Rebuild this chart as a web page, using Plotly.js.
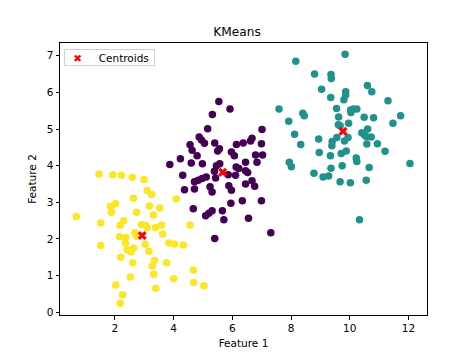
<!DOCTYPE html>
<html>
<head>
<meta charset="utf-8">
<script src="https://cdn.plot.ly/plotly-3.0.1.min.js"></script>
<style>html,body{margin:0;padding:0;background:#fff;}</style>
</head>
<body>
<div id="chart" style="width:474px;height:355px;"></div>
<script>
// Cluster 0 (purple)
const purpleX = [5.54,5.92,5.32,5.16,7.01,4.87,4.95,5.05,4.56,4.63,5.40,6.14,6.37,6.62,6.67,6.99,5.50,5.56,4.80,5.97,6.07,6.79,7.03,4.23,4.60,4.98,3.87,6.45,6.84,5.46,5.57,6.13,6.22,6.45,6.52,5.39,5.86,6.11,4.31,5.43,5.11,4.97,4.84,4.71,6.67,6.45,6.76,5.24,5.31,5.88,5.97,4.37,4.71,5.95,6.34,6.99,4.67,5.66,5.09,5.20,5.31,5.71,6.55,7.31,5.40];
const purpleY = [5.75,5.55,5.40,5.01,4.99,4.78,4.70,4.61,4.57,4.42,4.62,4.58,4.62,4.67,4.75,4.60,4.40,4.46,4.27,4.37,4.27,4.29,4.29,4.19,4.07,4.05,4.03,4.09,4.09,4.00,4.05,3.96,3.92,3.86,3.81,3.85,3.75,3.74,3.74,3.66,3.69,3.65,3.60,3.56,3.59,3.50,3.44,3.42,3.28,3.45,3.33,3.34,3.36,2.97,3.04,3.04,2.82,2.77,2.63,2.70,2.77,2.52,2.56,2.17,2.01];
// Cluster 1 (teal)
const tealX = [9.84,8.16,8.80,9.36,9.37,9.04,9.86,9.86,9.80,10.60,10.75,9.35,11.30,7.59,9.55,10.03,10.12,10.24,10.04,8.40,8.45,11.73,7.92,9.62,10.49,10.81,9.96,11.47,9.61,9.67,10.61,10.41,10.50,10.57,10.73,8.12,9.94,9.82,8.94,9.56,9.40,9.39,8.33,10.58,10.94,11.20,8.96,9.71,9.88,9.34,10.22,10.24,7.94,8.01,9.74,10.66,12.05,9.36,8.78,9.09,9.28,9.67,10.02,10.56,10.33];
const tealY = [7.04,6.85,6.50,6.49,6.38,6.09,6.02,5.93,5.80,6.19,6.02,5.86,5.77,5.55,5.56,5.52,5.55,5.55,5.45,5.43,5.36,5.36,5.21,5.33,5.32,5.31,5.16,5.16,5.12,5.09,5.00,4.90,4.84,4.79,4.78,4.86,4.77,4.67,4.73,4.77,4.66,4.54,4.58,4.59,4.60,4.39,4.36,4.33,4.40,4.27,4.21,4.11,4.09,3.97,4.00,3.95,4.06,3.93,3.79,3.69,3.72,3.56,3.53,3.60,2.52];
// Cluster 2 (yellow)
const yellowX = [1.46,1.93,2.22,2.59,2.99,3.10,3.25,2.63,4.09,2.02,1.85,3.18,3.53,1.88,2.74,3.31,0.69,1.52,2.30,2.18,2.91,3.04,3.10,3.38,3.59,4.56,2.68,3.63,2.16,2.37,2.74,2.36,1.52,3.03,3.84,4.03,4.33,2.64,2.42,2.55,3.16,2.20,3.35,2.61,3.76,3.27,4.67,3.32,2.53,4.00,4.68,2.03,3.39,5.03,2.26,2.18];
const yellowY = [3.77,3.75,3.74,3.68,3.62,3.32,3.21,3.11,3.09,2.96,2.89,2.90,2.84,2.73,2.73,2.65,2.61,2.43,2.50,2.37,2.39,2.37,2.30,2.31,2.38,2.38,2.17,2.13,2.06,2.04,2.07,1.89,1.82,1.85,1.89,1.86,1.83,1.75,1.70,1.65,1.66,1.50,1.41,1.35,1.35,1.26,1.15,1.03,0.96,0.91,0.81,0.74,0.65,0.72,0.47,0.24];
// Centroids
const centroidX = [5.67, 9.77, 2.93];
const centroidY = [3.82, 4.94, 2.09];
const legendLabel = 'Centroids';

const ptSize = 7.5;
const traces = [
  {x: purpleX, y: purpleY, mode: 'markers', type: 'scatter', showlegend: false,
   marker: {color: '#440154', size: ptSize}},
  {x: tealX, y: tealY, mode: 'markers', type: 'scatter', showlegend: false,
   marker: {color: '#21918c', size: ptSize}},
  {x: yellowX, y: yellowY, mode: 'markers', type: 'scatter', showlegend: false,
   marker: {color: '#fde725', size: ptSize}},
  {x: centroidX, y: centroidY, mode: 'markers', type: 'scatter', name: legendLabel, showlegend: false,
   marker: {color: '#ff0000', size: 8, symbol: 'x'}}
];

const axisCommon = {
  showgrid: false, zeroline: false, showline: true, mirror: true,
  linecolor: '#000', linewidth: 1, ticks: 'outside', ticklen: 3.5, tickwidth: 1,
  tickcolor: '#000', tickfont: {family: 'DejaVu Sans', size: 10.5, color: '#000'}
};

const layout = {
  width: 474, height: 355,
  margin: {l: 60, r: 47, t: 43, b: 40},
  paper_bgcolor: '#fff', plot_bgcolor: '#fff',
  font: {family: 'DejaVu Sans', color: '#000'},
  title: {text: 'KMeans', font: {family: 'DejaVu Sans', size: 12.2, color: '#000'},
          x: 0.5, xanchor: 'center', y: 1 - 32/355, yanchor: 'middle'},
  xaxis: Object.assign({}, axisCommon, {
    range: [0.13, 12.63], tickvals: [2,4,6,8,10,12],
    title: {text: 'Feature 1', font: {family: 'DejaVu Sans', size: 10.5, color: '#000'}, standoff: 6}
  }),
  yaxis: Object.assign({}, axisCommon, {
    range: [-0.08, 7.35], tickvals: [0,1,2,3,4,5,6,7],
    title: {text: 'Feature 2', font: {family: 'DejaVu Sans', size: 10.5, color: '#000'}, standoff: 8}
  }),
  showlegend: false,
  annotations: [{
    xref: 'paper', yref: 'paper', x: 0.0117, y: 0.977, xanchor: 'left', yanchor: 'top',
    showarrow: false, align: 'left',
    text: "&nbsp;&nbsp;<span style='color:#ff0000;font-weight:bold'>✖</span>&nbsp;&nbsp;&nbsp;&nbsp;&nbsp;" + legendLabel + "&nbsp;",
    font: {family: 'DejaVu Sans', size: 10.5, color: '#000'},
    bgcolor: 'rgba(255,255,255,0.8)', bordercolor: '#d0d0d0', borderwidth: 1, borderpad: 1.5
  }]
};

Plotly.newPlot('chart', traces, layout, {displayModeBar: false, staticPlot: true});
</script>
</body>
</html>
